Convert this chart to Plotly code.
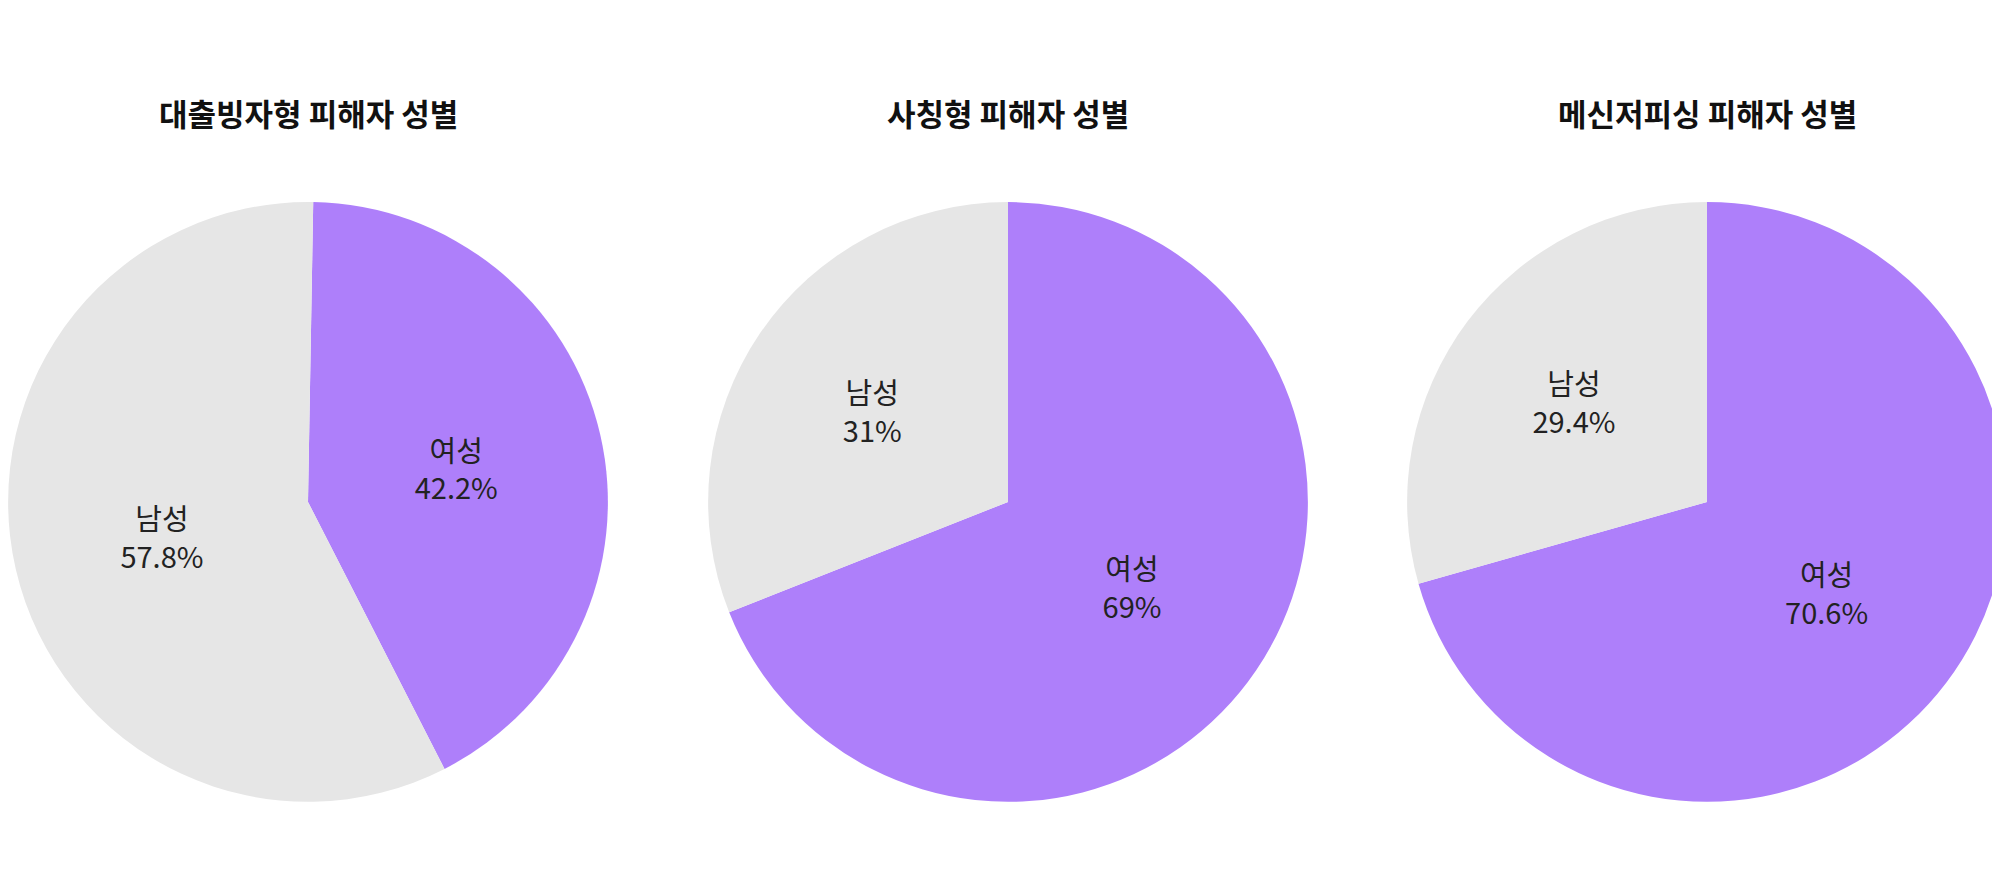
import plotly.graph_objects as go

titles = ["대출빙자형 피해자 성별", "사칭형 피해자 성별", "메신저피싱 피해자 성별"]
labels = ["여성", "남성"]
female = [42.2, 69, 70.6]
male = [57.8, 31, 29.4]
colors = ["#AE7FFA", "#E6E6E6"]

centers = [0.15, 0.5, 0.8495]
fig = go.Figure()
for i in range(3):
    c = centers[i]
    fig.add_trace(go.Pie(
        labels=labels, values=[female[i], male[i]], sort=False, direction="clockwise",
        rotation=1 if i == 0 else 0,
        marker=dict(colors=colors, line=dict(width=0)),
        text=[f"{female[i]:g}%", f"{male[i]:g}%"],
        texttemplate="%{label}<br>%{text}", textposition="inside", insidetextorientation="horizontal",
        textfont=dict(size=29, color="#222222", family="Noto Sans CJK KR"),
        hoverinfo="label+percent",
        domain=dict(x=[c - 0.15, c + 0.15], y=[0.1, 0.78]),
        showlegend=False,
    ))
    fig.add_annotation(text=f"<b>{titles[i]}</b>", x=c, y=0.882, xref="paper", yref="paper",
                       xanchor="center", yanchor="middle", showarrow=False,
                       font=dict(size=31, color="#111111", family="Noto Sans CJK KR"))

fig.update_layout(width=2000, height=882, margin=dict(l=0, r=0, t=0, b=0),
                  paper_bgcolor="white", plot_bgcolor="white")
fig.write_html("out.html")
